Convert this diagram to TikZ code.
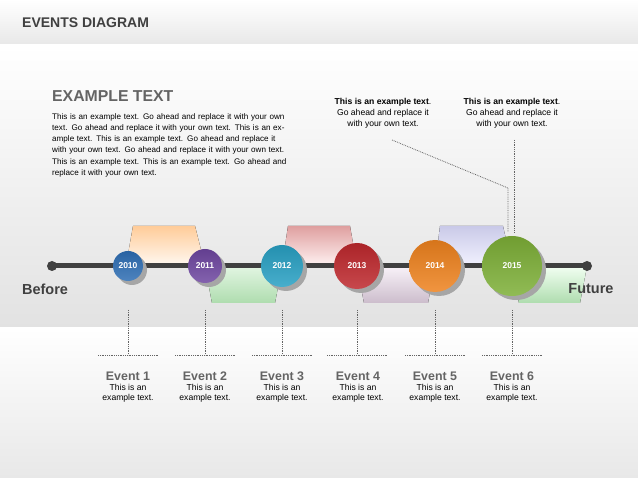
\documentclass[tikz,border=0pt]{standalone}
\usepackage{fontspec}
\setmainfont{Liberation Sans}
\usetikzlibrary{positioning}
\definecolor{bandtop}{RGB}{232,232,232}
\definecolor{bodygray}{RGB}{226,226,226}
\definecolor{linegray}{RGB}{64,64,64}
\definecolor{evgray}{RGB}{100,100,100}
\definecolor{cblue}{RGB}{46,110,180}
\definecolor{cviolet}{RGB}{110,70,160}
\definecolor{cteal}{RGB}{40,160,195}
\definecolor{cred}{RGB}{190,40,45}
\definecolor{corange}{RGB}{238,130,30}
\definecolor{cgreen}{RGB}{125,175,55}
\tikzset{
  year/.style={circle, text=white, font=\bfseries\fontsize{8.5}{10}\selectfont, inner sep=0pt},
  evtitle/.style={font=\bfseries\fontsize{12.4}{14}\selectfont, text=evgray},
  evtext/.style={font=\fontsize{8.6}{10.5}\selectfont, align=center, inner sep=1pt},
  leader/.style={densely dotted, thick, evgray},
  note/.style={font=\fontsize{8.6}{10.8}\selectfont, align=center}
}
\begin{document}
\begin{tikzpicture}[x=1pt,y=-1pt]
  \useasboundingbox (0,0) rectangle (638,478);
  % background
  \fill[top color=white, bottom color=bandtop] (0,0) rectangle (638,44);
  \fill[top color=white, bottom color=bodygray] (0,46) rectangle (638,328);
  \fill[top color=white, bottom color=bandtop] (0,328) rectangle (638,478);
  \node[anchor=west, inner sep=0pt, font=\bfseries\fontsize{14}{16}\selectfont, text=linegray] (title) at (22,23) {EVENTS DIAGRAM};

  % text block
  \node[anchor=west, inner sep=0pt, font=\bfseries\fontsize{15.8}{18}\selectfont, text=evgray] (head) at (52,96) {EXAMPLE TEXT};
  \node[anchor=north west, font=\fontsize{8.1}{11.3}\selectfont, text width=240pt, inner sep=0pt] (body) at (52,113)
    {This is an example text. Go ahead and replace it with your own text. Go ahead and replace it with your own text. This is an example text. This is an example text. Go ahead and replace it with your own text. Go ahead and replace it with your own text. This is an example text. This is an example text. Go ahead and replace it with your own text.};

  % ribbons
  \fill[top color=orange!40, bottom color=orange!5] (133,226) -- (195,226) -- (205,266) -- (126,266) -- cycle;
  \fill[top color=green!50!gray!15, bottom color=green!40!gray!45] (205,266) -- (282,266) -- (275,303) -- (212,303) -- cycle;
  \fill[top color=red!50!gray!50, bottom color=red!5] (288,226) -- (350,226) -- (357,266) -- (282,266) -- cycle;
  \fill[top color=violet!5, bottom color=violet!30!gray!40] (357,266) -- (435,266) -- (428,303) -- (364,303) -- cycle;
  \fill[top color=blue!40!gray!30, bottom color=blue!5] (440,226) -- (503,226) -- (512,266) -- (435,266) -- cycle;
  \fill[top color=green!5, bottom color=green!40!gray!45] (512,266) -- (587,266) -- (580,303) -- (519,303) -- cycle;

  % axis
  \draw[linegray, line width=5pt] (52,266) -- (587,266);
  \fill[linegray] (52,266) circle (5);
  \fill[linegray] (587,266) circle (5);
  \node[font=\bfseries\fontsize{14.5}{16}\selectfont, text=linegray] (before) at (45,289) {Before};
  \node[font=\bfseries\fontsize{14.5}{16}\selectfont, text=linegray] (future) at (591,289) {Future};

  % circles
  \foreach \x/\r/\c/\y/\n in {128/15/cblue/2010/1, 205/17/cviolet/2011/2, 282/21/cteal/2012/3, 357/23/cred/2013/4, 435/26/corange/2014/5, 512/30/cgreen/2015/6} {
    \fill[gray!70] (\x+4,266+4) circle (\r);
    \node[year, minimum size=2*\r, top color=\c!90!black, bottom color=\c!85!white] (c\n) at (\x,266) {\y};
    \coordinate (l\n) at (\x,310);
    \coordinate (m\n) at (\x,355);
    \draw[leader] (l\n) -- (m\n);
    \draw[leader] (\x-30,355) -- (\x+30,355);
  }
  \foreach \n/\x in {1/128,2/205,3/282,4/358,5/435,6/512} {
    \node[evtitle] (e\n) at (\x,376) {Event \n};
    \node[evtext, below=-1pt of e\n] (t\n) {This is an\\example text.};
  }

  % notes
  \node[note] (n1) at (383,113) {\textbf{This is an example text}.\\Go ahead and replace it\\with your own text.};
  \node[note] (n2) at (512,113) {\textbf{This is an example text}.\\Go ahead and replace it\\with your own text.};
  \coordinate (k1) at (508,188);
  \coordinate (k2) at (508,232);
  \draw[leader] (392,140) -- (k1) -- (k2);
  \draw[leader] (514,140) -- (514,232);
\end{tikzpicture}
\end{document}
